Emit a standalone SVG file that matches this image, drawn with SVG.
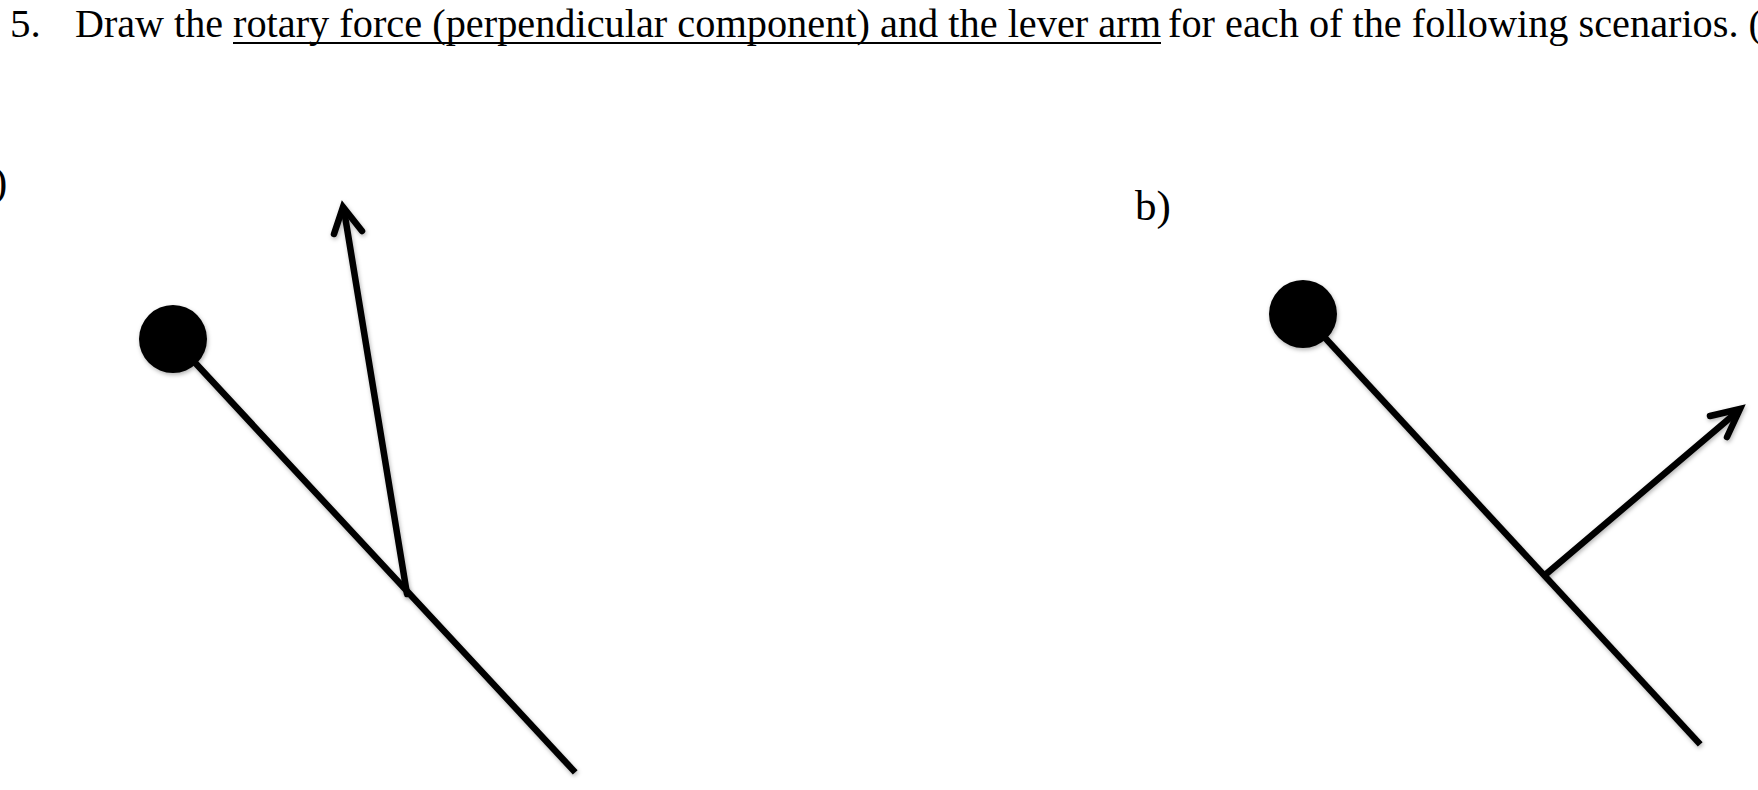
<svg xmlns="http://www.w3.org/2000/svg" width="1758" height="790" viewBox="0 0 1758 790">
<style>
.t{font-family:"Liberation Serif","Times New Roman",serif;font-size:41px;fill:#000}
.lbl{font-family:"Liberation Serif","Times New Roman",serif;font-size:43px;fill:#000}
.bar{stroke:#000;stroke-width:6.5;stroke-linecap:square;fill:none}
.arw{stroke:#000;stroke-width:6.5;stroke-linecap:round;stroke-linejoin:miter;fill:none}
</style>
<defs>
<filter id="sh" x="-20%" y="-20%" width="140%" height="140%">
<feDropShadow dx="1" dy="2" stdDeviation="2" flood-color="#000" flood-opacity="0.3"/>
</filter>
</defs>
<rect width="1758" height="790" fill="#fff"/>
<g id="header">
<text class="t" x="10" y="37">5.</text>
<text class="t" x="75" y="37" textLength="148" lengthAdjust="spacingAndGlyphs">Draw the</text>
<text class="t" x="233" y="37" textLength="928" lengthAdjust="spacingAndGlyphs">rotary force (perpendicular component) and the lever arm</text>
<line x1="233" y1="43" x2="1161" y2="43" stroke="#000" stroke-width="2"/>
<text class="t" x="1168" y="37" textLength="594" lengthAdjust="spacingAndGlyphs">for each of the following scenarios. (</text>
</g>
<g id="label-a"><text class="lbl" x="-26" y="196">a)</text></g>
<g id="label-b"><text class="lbl" x="1135" y="220">b)</text></g>
<g id="scenario-a" filter="url(#sh)">
<line class="bar" x1="173" y1="339" x2="573" y2="770"/>
<circle cx="173" cy="339" r="34" fill="#000"/>
</g>
<g id="scenario-b" filter="url(#sh)">
<line class="bar" x1="1303" y1="314" x2="1698" y2="742"/>
<circle cx="1303" cy="314" r="34" fill="#000"/>
</g>
<g id="connectors" filter="url(#sh)">
<line class="arw" x1="407" y1="594" x2="344" y2="210"/>
<polyline class="arw" points="334,234 343,207 362,231"/>
<line class="arw" x1="1545" y1="575" x2="1737" y2="412"/>
<polyline class="arw" points="1710,416 1740,409 1727,437"/>
</g>
</svg>
